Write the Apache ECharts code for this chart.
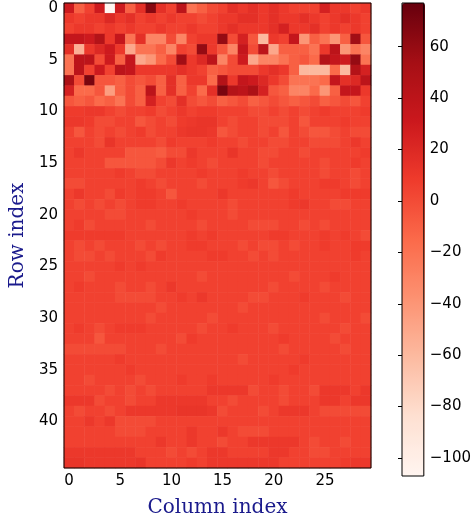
<!DOCTYPE html>
<html><head><meta charset="utf-8">
<script src="https://cdn.jsdelivr.net/npm/echarts@6/dist/echarts.min.js"></script>
<style>html,body{margin:0;padding:0;background:#fff}#c{width:474px;height:523px}</style>
</head><body><div id="c"></div>
<script>
const columns = Array.from({length:30},(_,i)=>String(i));
const rowLabels = Array.from({length:45},(_,i)=>String(i));
const colorbarTicks = [-100,-80,-60,-40,-20,0,20,40,60];
const vMin = -107, vMax = 77;
const rows = [
[30,-10,5,30,-107,30,-10,15,65,15,5,40,-20,-10,0,5,15,10,15,10,15,10,5,5,5,25,10,10,5,10],
[10,5,10,10,20,10,15,5,10,5,10,5,5,0,5,10,10,15,15,10,15,10,10,15,10,5,10,15,10,5],
[5,10,10,5,10,5,10,5,5,10,5,5,10,5,5,10,15,10,10,10,15,25,10,10,15,5,10,5,10,5],
[35,35,30,45,10,35,-20,15,-30,-30,0,-30,5,10,10,60,0,25,-5,-60,10,5,35,-40,-10,-20,-40,-10,55,-5],
[15,-55,10,20,30,10,-50,-20,-20,-10,-30,5,0,60,10,-5,-30,35,0,40,-50,-10,-10,-10,-20,10,40,-40,-20,-30],
[-20,40,40,0,30,-10,35,-50,-40,-15,0,55,10,20,40,-30,0,30,-50,-30,-30,-20,-10,-5,-15,45,35,30,60,-20],
[-20,40,5,30,5,40,35,10,10,10,10,15,10,5,-10,-5,0,0,0,10,15,10,-10,-60,-60,-60,-15,-60,45,25],
[50,0,70,-5,-5,-10,0,-5,0,-10,15,-10,10,10,-15,45,10,35,30,20,10,0,-20,-20,-20,-15,35,15,20,40],
[25,-15,-15,-5,-45,-10,0,-10,40,-10,15,-10,5,-15,15,70,45,40,50,25,-5,-10,-30,-30,-15,-40,-10,35,35,10],
[-5,-10,-5,-15,-10,-20,0,-10,25,5,0,15,0,-5,0,-10,-5,0,-10,-5,0,-5,-10,-5,0,-10,-5,0,-5,5],
[8,8,10,10,5,0,5,5,8,0,5,10,5,8,8,5,5,5,0,0,5,0,5,0,5,8,5,5,5,8],
[10,10,8,0,0,5,5,-5,0,5,0,8,10,12,12,5,0,5,5,0,0,0,5,-5,5,5,5,8,5,5],
[5,-5,5,0,5,0,5,8,0,5,5,10,12,12,10,-5,0,5,5,0,5,-5,5,0,-5,-5,0,5,0,0],
[5,5,5,0,12,5,5,5,5,0,8,5,5,5,8,5,5,0,5,5,0,0,5,5,0,0,0,5,10,5],
[5,10,5,5,5,5,-5,-5,-5,-8,0,0,10,5,5,5,12,5,5,0,0,5,5,0,5,5,5,5,5,8],
[5,5,5,5,-5,-5,-5,-5,-5,0,10,5,8,5,0,5,5,5,5,0,5,5,5,5,5,0,5,5,8,5],
[5,5,5,5,5,8,5,0,0,5,5,5,5,8,5,5,5,8,5,5,0,5,5,5,5,0,5,5,0,5],
[0,0,5,5,5,5,5,8,5,0,5,5,5,0,5,5,5,8,10,5,-5,0,5,5,5,8,8,5,0,5],
[5,10,5,5,0,8,5,8,8,5,-5,5,5,5,5,10,5,5,5,5,5,5,8,5,5,5,5,8,8,8],
[5,0,5,0,5,0,5,8,8,5,5,8,5,5,5,5,0,5,5,5,5,5,8,10,5,5,0,0,5,5],
[5,5,5,5,0,0,5,5,5,5,5,5,8,5,5,5,0,5,5,5,5,5,5,5,5,5,5,5,5,5],
[5,8,0,5,5,5,5,5,0,5,5,5,5,0,5,5,5,5,0,0,0,5,5,0,5,0,5,5,5,5],
[8,8,8,8,8,8,5,5,5,5,5,5,8,5,8,5,5,5,5,5,8,8,5,5,5,8,5,8,5,0],
[5,0,5,0,5,5,5,0,5,0,5,5,8,8,5,5,5,0,5,0,0,5,0,5,5,8,5,5,8,8],
[5,0,0,5,0,5,5,5,0,8,5,5,5,5,8,8,5,5,0,5,0,5,5,5,5,5,5,5,8,5],
[5,5,5,5,5,8,5,8,5,5,5,5,5,5,5,5,5,5,5,5,5,5,5,5,5,5,5,5,5,5],
[5,5,0,5,5,5,5,5,5,5,5,5,5,0,5,5,5,5,5,5,5,5,0,5,5,5,8,5,5,5],
[5,8,5,5,5,0,5,5,0,5,10,5,5,5,5,5,5,5,5,5,0,5,5,5,5,0,5,5,5,5],
[5,5,5,5,5,0,0,0,0,5,5,8,5,10,5,5,5,5,0,0,5,5,5,8,5,5,5,0,5,5],
[5,5,5,5,5,5,5,5,5,0,5,5,5,5,5,5,5,0,5,5,5,5,5,5,5,5,5,5,5,5],
[5,5,5,5,5,5,5,5,0,5,5,5,5,5,0,5,5,5,5,5,5,5,5,5,5,0,5,5,5,0],
[5,8,5,0,5,8,8,8,5,5,5,5,5,0,5,5,8,5,5,5,0,5,5,5,5,5,5,0,5,5],
[5,5,5,-5,5,5,5,5,5,5,5,0,8,5,5,5,5,5,5,5,5,8,5,5,5,5,0,5,5,5],
[0,0,0,0,0,0,5,5,5,0,5,5,5,5,5,5,5,5,5,5,5,0,5,5,5,5,5,0,5,5],
[5,5,5,5,5,8,5,5,5,5,5,5,5,5,5,5,5,0,5,5,5,5,5,8,5,5,5,5,5,5],
[5,5,5,5,5,5,8,5,5,5,5,5,5,5,5,5,5,5,5,5,5,5,8,5,5,5,5,5,5,5],
[5,5,0,5,5,5,5,0,5,5,5,8,5,5,8,5,5,5,5,5,8,5,5,5,5,5,5,5,5,5],
[5,5,5,5,0,5,0,5,0,5,5,5,5,5,10,10,10,10,0,5,5,0,5,5,0,10,10,10,5,10],
[10,10,10,0,5,5,0,5,5,10,10,10,10,10,5,5,0,5,5,5,5,0,5,5,5,10,10,5,10,10],
[5,0,5,5,0,5,10,10,10,10,10,12,12,12,10,0,5,5,5,0,5,10,10,10,5,0,0,0,0,0],
[5,5,10,5,10,0,0,0,0,5,5,5,5,5,5,5,5,5,5,5,5,5,5,5,5,5,5,5,5,5],
[5,5,5,5,5,0,0,0,5,5,5,5,10,5,5,10,5,0,0,0,5,5,5,5,5,5,5,5,5,5],
[5,5,5,5,5,5,5,5,5,10,5,5,10,5,5,0,5,5,10,10,10,10,10,5,0,5,5,0,5,5],
[10,10,10,10,10,10,10,5,5,5,0,5,0,5,10,10,5,5,5,5,10,10,5,5,0,0,5,5,5,5],
[12,12,10,10,10,10,10,12,5,5,5,5,8,5,10,10,10,10,10,10,10,5,5,5,5,5,5,8,10,10]
];
const data = [];
rows.forEach((r,y)=>r.forEach((v,x)=>data.push([x,y,v])));
const reds = ['#fff5f0','#fee0d2','#fcbba1','#fc9272','#fb6a4a','#ef3b2c','#cb181d','#a50f15','#67000d'];
const font = 'DejaVu Sans';
const chart = echarts.init(document.getElementById('c'));
chart.setOption({
  animation:false,
  grid:[
    {left:59,top:3,width:312,height:472,show:true,borderColor:'#000',borderWidth:1,backgroundColor:'transparent',z:10},
    {left:402,top:3,width:23,height:473,show:true,borderColor:'#000',borderWidth:1,backgroundColor:'transparent',z:10}
  ],
  xAxis:[
    {type:'category',data:columns,gridIndex:0,position:'bottom',
     name:'Column index',nameLocation:'middle',nameGap:30,
     nameTextStyle:{fontFamily:'DejaVu Serif',fontSize:20,color:'#1a1a8c'},
     axisLine:{show:false},splitLine:{show:false},
     axisTick:{inside:true,alignWithLabel:true,length:4,interval:i=>i%5===0,lineStyle:{color:'#000'}},
     axisLabel:{interval:i=>i%5===0,fontFamily:font,fontSize:15,color:'#000',margin:6}},
    {type:'value',gridIndex:1,show:false,min:0,max:1}
  ],
  yAxis:[
    {type:'category',data:rowLabels,gridIndex:0,inverse:true,
     name:'Row index',nameLocation:'middle',nameGap:36,nameRotate:90,
     nameTextStyle:{fontFamily:'DejaVu Serif',fontSize:20,color:'#1a1a8c'},
     axisLine:{show:false},splitLine:{show:false},
     axisTick:{inside:true,alignWithLabel:true,length:4,interval:i=>i%5===0,lineStyle:{color:'#000'}},
     axisLabel:{interval:i=>i%5===0,fontFamily:font,fontSize:15,color:'#000',margin:6}},
    {type:'value',gridIndex:1,position:'right',min:vMin,max:vMax,
     axisLine:{show:false},splitLine:{show:false},
     axisTick:{show:true,inside:true,length:4,customValues:colorbarTicks,lineStyle:{color:'#000'}},
     axisLabel:{customValues:colorbarTicks,fontFamily:font,fontSize:15,color:'#000',margin:6,
       formatter:v=>String(v).replace('-','\u2212')}}
  ],
  visualMap:[{type:'continuous',min:vMin,max:vMax,seriesIndex:0,calculable:false,
    left:402,top:3,itemWidth:23,itemHeight:473,padding:0,text:null,showLabel:false,
    inRange:{color:reds}}],
  series:[{type:'heatmap',data:data,xAxisIndex:0,yAxisIndex:0,itemStyle:{borderWidth:0}}]
});
</script></body></html>
